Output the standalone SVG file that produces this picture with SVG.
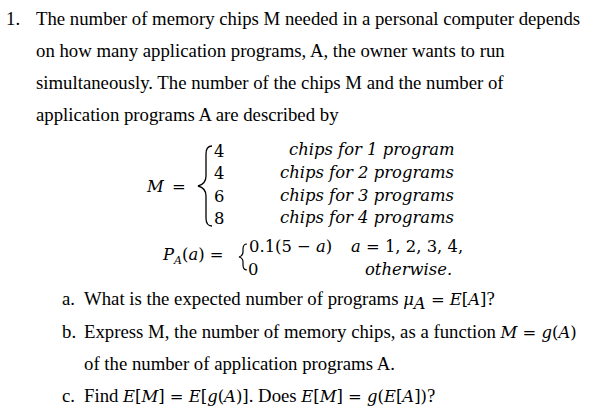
<svg xmlns="http://www.w3.org/2000/svg" width="615" height="418" viewBox="0 0 615 418">
<style>
text{font-family:"Liberation Serif",serif;font-size:18.75px;fill:#000}
.m{font-family:"DejaVu Serif","Liberation Serif",serif;font-size:16.4px}
.i{font-style:italic}
</style>
<rect width="615" height="418" fill="#fff"/>
<g id="text">
<text x="6" y="25">1.</text>
<text x="36" y="25">The number of memory chips M needed in a personal computer depends</text>
<text x="36" y="57">on how many application programs, A, the owner wants to run</text>
<text x="36" y="89">simultaneously. The number of the chips M and the number of</text>
<text x="36" y="121">application programs A are described by</text>
<text class="m i" x="147" y="192">M</text><text class="m" x="172" y="192">=</text>
<path d="M212,146 q-6,0 -6,8 v22 q0,8 -8,10 q8,2 8,10 v22 q0,8 6,8" fill="none" stroke="#000" stroke-width="1.3"/>
<text class="m" x="214" y="157">4</text>
<text class="m" x="214" y="179">4</text>
<text class="m" x="214" y="202">6</text>
<text class="m" x="214" y="224">8</text>
<text class="m i" x="289" y="155">chips for 1 program</text>
<text class="m i" x="280" y="178">chips for 2 programs</text>
<text class="m i" x="280" y="201">chips for 3 programs</text>
<text class="m i" x="280" y="223">chips for 4 programs</text>
<text class="m" x="163" y="260"><tspan class="i">P</tspan><tspan font-size="11" dy="4" class="i">A</tspan><tspan dy="-4">(</tspan><tspan class="i">a</tspan>) =</text>
<path d="M247,244 q-4,0 -4,5 v3 q0,4 -4,5 q4,1 4,5 v3 q0,5 4,5" fill="none" stroke="#000" stroke-width="1.2"/>
<text class="m" x="249" y="252">0.1(5 − <tspan class="i">a</tspan>)</text>
<text class="m" x="351" y="252"><tspan class="i">a</tspan> = 1, 2, 3, 4,</text>
<text class="m" x="248" y="275">0</text>
<text class="m i" x="365" y="275">otherwise.</text>
<text x="62" y="305">a.</text>
<text x="84" y="305">What is the expected number of programs <tspan class="m i">μ</tspan><tspan class="m i" font-size="11" dy="4">A</tspan><tspan class="m" dy="-4"> = </tspan><tspan class="m i">E</tspan><tspan class="m">[</tspan><tspan class="m i">A</tspan><tspan class="m">]</tspan>?</text>
<text x="62" y="338">b.</text>
<text x="84" y="338">Express M, the number of memory chips, as a function <tspan class="m i">M</tspan><tspan class="m"> = </tspan><tspan class="m i">g</tspan><tspan class="m">(</tspan><tspan class="m i">A</tspan><tspan class="m">)</tspan></text>
<text x="84" y="370">of the number of application programs A.</text>
<text x="62" y="402">c.</text>
<text x="84" y="402">Find <tspan class="m i">E</tspan><tspan class="m">[</tspan><tspan class="m i">M</tspan><tspan class="m">] = </tspan><tspan class="m i">E</tspan><tspan class="m">[</tspan><tspan class="m i">g</tspan><tspan class="m">(</tspan><tspan class="m i">A</tspan><tspan class="m">)]</tspan>. Does <tspan class="m i">E</tspan><tspan class="m">[</tspan><tspan class="m i">M</tspan><tspan class="m">] = </tspan><tspan class="m i">g</tspan><tspan class="m">(</tspan><tspan class="m i">E</tspan><tspan class="m">[</tspan><tspan class="m i">A</tspan><tspan class="m">])</tspan>?</text>
</g>
</svg>
